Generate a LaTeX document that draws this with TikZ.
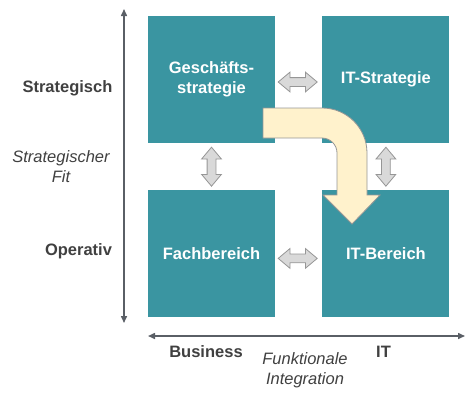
\documentclass[tikz,border=0pt]{standalone}
\usepackage{fontspec}
\setmainfont{Liberation Sans}
\usetikzlibrary{positioning,calc,shapes.arrows,arrows.meta}
\definecolor{boxteal}{RGB}{58,149,161}
\definecolor{labelgray}{RGB}{64,64,64}
\definecolor{axisgray}{RGB}{90,95,102}
\definecolor{cream}{RGB}{255,242,204}
\definecolor{dblfill}{RGB}{217,217,217}
\definecolor{dbldraw}{RGB}{150,150,150}
\begin{document}
\begin{tikzpicture}[x=1pt,y=1pt,node distance = {47pt},
    box/.style = {fill=boxteal, minimum size=127pt, inner sep=0pt, text=white, align=center, font=\fontsize{16.5}{20}\selectfont\bfseries},
    dbl/.style = {double arrow, draw=dbldraw, fill=dblfill, line width=0.8pt, minimum height=39pt, inner sep=4pt, double arrow head extend=5.5pt, double arrow tip angle=80},
    lbl/.style = {text=labelgray, font=\fontsize{16.5}{20}\selectfont\bfseries},
    ilbl/.style = {text=labelgray, align=center, font=\fontsize{16.5}{20}\selectfont\itshape},
    axis/.style = {draw=axisgray, line width=1.5pt, {Triangle[width=6pt,length=7pt]}-{Triangle[width=6pt,length=7pt]}}]
  \useasboundingbox (0,0) rectangle (474,-400);
  % the four boxes
  \node[box] (gs) at (211.5,-79.5) {Gesch\"afts-\\strategie};
  \node[box] (its) [right=of gs] {IT-Strategie};
  \node[box] (fb) [below=of gs] {Fachbereich};
  \node[box] (itb) [right=of fb] {IT-Bereich};
  % double arrows between the boxes
  \node[dbl] (gsits) at ($(gs.east)!0.5!(its.west)+(-1,-2.5)$) {};
  \node[dbl] (fbitb) at ($(fb.east)!0.5!(itb.west)+(-1,-4.5)$) {};
  \node[dbl, rotate=90] (gsfb) at ($(gs.south)!0.5!(fb.north)$) {};
  \node[dbl, rotate=90] (itsitb) at ($(its.south)!0.5!(itb.north)$) {};
  % curved arrow
  \draw[draw=dbldraw, fill=cream, line width=0.8pt]
    (263,-108) -- (322,-108) arc (90:0:45) -- (367,-195) -- (380,-195) -- (352,-224)
    -- (323,-195) -- (337,-195) -- (337,-153) arc (0:90:15) -- (263,-138) -- cycle;
  % axes
  \coordinate (vtop) at (124,-9);
  \coordinate (vbot) at (124,-323);
  \coordinate (hleft) at (148,-336);
  \coordinate (hright) at (465,-336);
  \draw[axis] (vbot) -- (vtop);
  \draw[axis] (hleft) -- (hright);
  % labels
  \node[lbl] (strat) at (67.5,-88) {Strategisch};
  \node[ilbl] (fit) at (61,-167) {Strategischer\\Fit};
  \node[lbl, anchor=east] (op) at (115.5,-251) {Operativ};
  \node[lbl] (bus) at (206,-352) {Business};
  \node[lbl] (it) at (383.5,-352) {IT};
  \node[ilbl] (fi) at (305,-370) {Funktionale\\Integration};
\end{tikzpicture}
\end{document}
